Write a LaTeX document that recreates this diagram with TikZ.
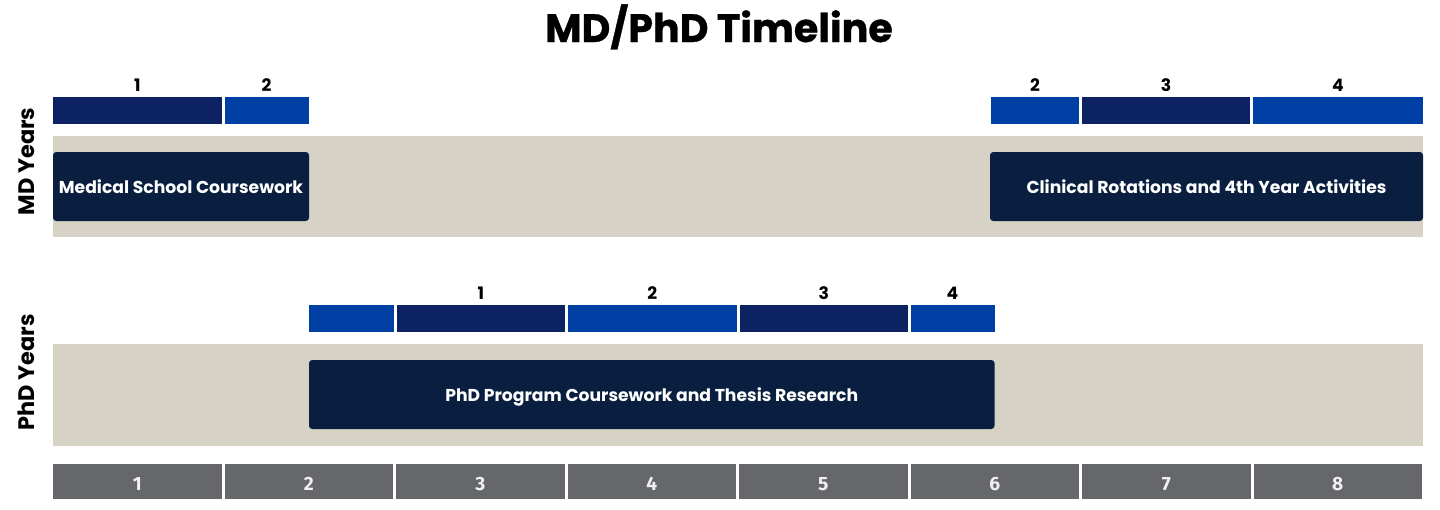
\documentclass[tikz,border=0pt]{standalone}
\usepackage{fontspec}
\setmainfont{Poppins}
\newfontfamily\titlefont{Poppins}[BoldFeatures={FakeBold=0.8}]
\newfontfamily\numfont{Fira Sans}
\definecolor{bardark}{HTML}{0C2262}
\definecolor{barblue}{HTML}{0040A4}
\definecolor{boxnavy}{HTML}{0A1F40}
\definecolor{bandcol}{HTML}{D6D3C6}
\definecolor{yeargray}{HTML}{65676B}
\newcommand\rectnode[7]{\node[#6, minimum width={((#4)-(#2))*0.5pt}, minimum height={((#5)-(#3))*0.5pt}] (#1) at ({((#2)+(#4))/2},{((#3)+(#5))/2}) {#7};}
\begin{document}
\begin{tikzpicture}[x=0.5pt,y=-0.5pt,
  seg/.style={rectangle, inner sep=0pt, outer sep=0pt, draw=none},
  darkseg/.style={seg, fill=bardark},
  blueseg/.style={seg, fill=barblue},
  bandbox/.style={seg, fill=bandcol},
  phase/.style={seg, fill=boxnavy, rounded corners=1.6pt, text=white,
    font=\fontsize{8.6pt}{10pt}\selectfont\bfseries, text height=6.6pt, text depth=0pt},
  yearbox/.style={seg, fill=yeargray, text=white!94!black,
    font=\numfont\fontsize{9.6pt}{10pt}\selectfont\bfseries, text height=8.6pt, text depth=0pt},
  ylabel/.style={font=\fontsize{8.6pt}{10pt}\selectfont\bfseries, anchor=base, inner sep=0pt, text=black},
  rowlabel/.style={rotate=90, font=\fontsize{11.2pt}{14pt}\selectfont\bfseries, inner sep=0pt,
    text height=7.6pt, text depth=0pt, text=black},
  titlestyle/.style={font=\titlefont\fontsize{19.8pt}{24pt}\selectfont\bfseries, anchor=base, inner sep=0pt, text=black}
]
\useasboundingbox (0,0) rectangle (1440,509);

% title
\node[titlestyle] (title) at (719,42) {MD/PhD Timeline};

% bands
\rectnode{mdband}{53}{136}{1423}{237}{bandbox}{}
\rectnode{phdband}{53}{344}{1423}{446}{bandbox}{}

% row labels
\node[rowlabel] (mdlabel) at (27,161.5) {MD Years};
\node[rowlabel] (phdlabel) at (27,372.5) {PhD Years};

% phase boxes
\rectnode{medbox}{53}{152}{309}{221}{phase}{Medical School Coursework}
\rectnode{clinbox}{990}{152}{1423}{221}{phase}{Clinical Rotations and 4th Year Activities}
\rectnode{phdbox}{309}{360}{994.5}{429}{phase, text height=7.4pt}{PhD Program Coursework and Thesis Research}

% MD year bar
\rectnode{md1}{53}{97}{221.5}{124}{darkseg}{}
\rectnode{md2}{224.5}{97}{308.75}{124}{blueseg}{}
\rectnode{md3}{991}{97}{1079}{124}{blueseg}{}
\rectnode{md4}{1082}{97}{1250}{124}{darkseg}{}
\rectnode{md5}{1253}{97}{1423}{124}{blueseg}{}
\node[ylabel] (lmd1) at ([yshift=3pt]md1.north) {1};
\node[ylabel] (lmd2) at ([yshift=3pt]md2.north) {2};
\node[ylabel] (lmd3) at ([yshift=3pt]md3.north) {2};
\node[ylabel] (lmd4) at ([yshift=3pt]md4.north) {3};
\node[ylabel] (lmd5) at ([yshift=3pt]md5.north) {4};

% PhD year bar
\rectnode{p1}{309}{305}{393.5}{332}{blueseg}{}
\rectnode{p2}{396.5}{305}{565}{332}{darkseg}{}
\rectnode{p3}{568}{305}{736.5}{332}{blueseg}{}
\rectnode{p4}{739.5}{305}{908}{332}{darkseg}{}
\rectnode{p5}{910.5}{305}{994.5}{332}{blueseg}{}
\node[ylabel] (lp2) at ([yshift=3pt]p2.north) {1};
\node[ylabel] (lp3) at ([yshift=3pt]p3.north) {2};
\node[ylabel] (lp4) at ([yshift=3pt]p4.north) {3};
\node[ylabel] (lp5) at ([yshift=3pt]p5.north) {4};

% overall years
\foreach \i [count=\n] in {0,...,7}{
  \rectnode{y\n}{51.5+171.5*\i+1.5}{464}{51.5+171.5*(\i+1)-1.5}{499}{yearbox}{\n}
}
\end{tikzpicture}
\end{document}
